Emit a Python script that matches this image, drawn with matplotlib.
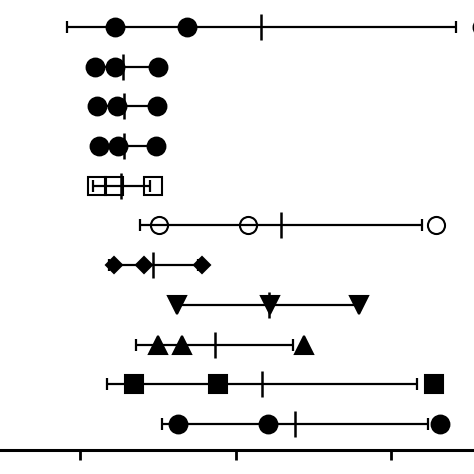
import numpy as np
import matplotlib
matplotlib.use('Agg')
import matplotlib.pyplot as plt

# individual values per group, top row first
group_values = [
	[2.25, 6.88, 25.85],
	[0.96, 2.25, 5.02],
	[1.09, 2.38, 4.95],
	[1.22, 2.44, 4.89],
	[1.09, 2.19, 4.69],
	[5.08, 10.80, 22.89],
	[2.19, 4.12, 7.85],
	[6.24, 12.22, 17.94],
	[5.02, 6.56, 14.41],
	[3.47, 8.87, 22.77],
	[6.30, 12.09, 23.15],
]
group_markers = ['o', 'o', 'o', 'o', 's', 'o', 'D', 'v', '^', 's', 'o']
group_filled = [True, True, True, True, False, False, True, True, True, True, True]
marker_sizes = [12.8, 12.8, 12.8, 12.8, 13.5, 12.3, 8, 13.2, 12.8, 13, 12.8]
x_ticks = [0, 10, 20]

fig = plt.figure(figsize=(4.74, 4.74), dpi=100)
ax = fig.add_axes([0, 24 / 474, 1, 450 / 474])

for row, vals in enumerate(group_values):
	vals = np.array(vals)
	mean = vals.mean()
	sd = vals.std(ddof=1)
	ax.errorbar(mean, row, xerr=sd, fmt='none', ecolor='black', elinewidth=1.6,
		capsize=4.3, capthick=1.6, zorder=1)
	face = 'black' if group_filled[row] else 'none'
	ax.plot(vals, [row] * len(vals), linestyle='none', marker=group_markers[row],
		markersize=marker_sizes[row], markerfacecolor=face, markeredgecolor='black',
		markeredgewidth=1.5, zorder=2, clip_on=False)
	ax.plot([mean], [row], marker='|', markersize=18.5, markeredgewidth=1.8,
		color='black', zorder=3)

ax.set_xlim(-80 / 15.55, (474 - 80) / 15.55)
ax.set_ylim((450 - 27) / 39.7, -27 / 39.7)
ax.set_xticks(x_ticks)
ax.set_yticks([])
ax.tick_params(axis='x', direction='out', length=7, width=2, labelbottom=False)
for side in ['top', 'right', 'left']:
	ax.spines[side].set_visible(False)
ax.spines['bottom'].set_linewidth(2.2)

fig.savefig('out.png', dpi=100)
